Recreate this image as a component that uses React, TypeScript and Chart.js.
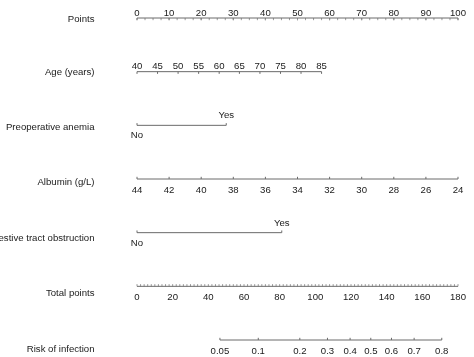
import React, { useEffect, useRef } from "react";
import { Chart, registerables } from "chart.js";

Chart.register(...registerables);

// Row titles (top to bottom)
const rowTitles = [
  "Points",
  "Age (years)",
  "Preoperative anemia",
  "Albumin (g/L)",
  "Digestive tract obstruction",
  "Total points",
  "Risk of infection",
];

// Points scale
const pointsLabels = [0, 10, 20, 30, 40, 50, 60, 70, 80, 90, 100];
const pointsMinorStep = 2.5;

// Age (years): label -> points
const ageLabels = [40, 45, 50, 55, 60, 65, 70, 75, 80, 85];
const agePoints = [0, 6.4, 12.8, 19.2, 25.6, 31.9, 38.3, 44.7, 51.1, 57.5];

// Preoperative anemia
const anemiaLabels = ["No", "Yes"];
const anemiaPoints = [0, 27.8];

// Albumin (g/L)
const albuminLabels = [44, 42, 40, 38, 36, 34, 32, 30, 28, 26, 24];
const albuminPoints = [0, 10, 20, 30, 40, 50, 60, 70, 80, 90, 100];

// Digestive tract obstruction
const obstructionLabels = ["No", "Yes"];
const obstructionPoints = [0, 45.1];

// Total points
const totalLabels = [0, 20, 40, 60, 80, 100, 120, 140, 160, 180];
const totalMax = 180;
const totalMinorStep = 2;

// Risk of infection: label -> total points
const riskLabels = ["0.05", "0.1", "0.2", "0.3", "0.4", "0.5", "0.6", "0.7", "0.8"];
const riskTotalPoints = [46.5, 68.0, 91.3, 106.8, 119.5, 131.1, 142.7, 155.4, 170.9];

const LINE = "#6a6a6a";
const MINOR = "#9a9a9a";
const TEXT = "#1a1a1a";
const FONT = '9.6px "Liberation Sans", Arial, Helvetica, sans-serif';

const tpToPts = (tp: number) => (tp * 100) / totalMax;

export default function App() {
  const ref = useRef<HTMLCanvasElement | null>(null);

  useEffect(() => {
    document.body.style.margin = "0";
    const canvas = ref.current;
    if (!canvas) return;

    const TICK = 1.1; // px half-length of tick mark
    const PX_PER_ROW = (357 - 18 - 17) / 6;
    const tOff = TICK / PX_PER_ROW;

    const lineDs = (row: number, x0: number, x1: number) => ({
      type: "line" as const,
      data: [
        { x: x0, y: row },
        { x: x1, y: row },
      ],
      borderColor: LINE,
      borderWidth: 1,
      pointRadius: 0,
      showLine: true,
      clip: false as any,
    });
    const tickDs = (row: number, xs: number[], dir: number, color = LINE) => ({
      type: "scatter" as const,
      data: xs.map((x) => ({ x, y: row + dir * tOff })),
      pointStyle: "line" as const,
      rotation: 90,
      pointRadius: TICK,
      pointBorderWidth: 1,
      pointBorderColor: color,
      borderColor: color,
      showLine: false,
      clip: false as any,
    });

    const pointsMinor: number[] = [];
    for (let v = 0; v <= 100 + 1e-9; v += pointsMinorStep) pointsMinor.push(v);
    const totalMinor: number[] = [];
    for (let v = 0; v <= totalMax + 1e-9; v += totalMinorStep) totalMinor.push(tpToPts(v));

    const datasets: any[] = [
      lineDs(0, 0, 100),
      tickDs(0, pointsMinor, 1, MINOR),
      tickDs(0, pointsLabels, 1),
      lineDs(1, agePoints[0], agePoints[agePoints.length - 1]),
      tickDs(1, agePoints, 1),
      lineDs(2, anemiaPoints[0], anemiaPoints[1]),
      tickDs(2, anemiaPoints, -1),
      lineDs(3, 0, 100),
      tickDs(3, albuminPoints, -1),
      lineDs(4, obstructionPoints[0], obstructionPoints[1]),
      tickDs(4, obstructionPoints, -1),
      lineDs(5, 0, tpToPts(totalMax)),
      tickDs(5, totalMinor, -1, MINOR),
      lineDs(6, tpToPts(riskTotalPoints[0]), tpToPts(riskTotalPoints[riskTotalPoints.length - 1])),
      tickDs(6, riskTotalPoints.map(tpToPts), -1),
    ];

    const textPlugin = {
      id: "nomoText",
      afterDatasetsDraw(chart: any) {
        const { ctx, scales } = chart;
        const xs = scales.x;
        const ys = scales.y;
        const X = (v: number) => xs.getPixelForValue(v);
        const Y = (r: number) => ys.getPixelForValue(r);
        ctx.save();
        ctx.font = FONT;
        ctx.fillStyle = TEXT;
        ctx.textBaseline = "alphabetic";

        const titleOff = [4.3, 3.8, 4.3, 6, 8.7, 9.3, 11.7];
        ctx.textAlign = "right";
        rowTitles.forEach((t, i) => ctx.fillText(t, 94.5, Y(i) + titleOff[i]));

        ctx.textAlign = "center";
        pointsLabels.forEach((v) => ctx.fillText(String(v), X(v), Y(0) - 2.3));
        ageLabels.forEach((v, i) => ctx.fillText(String(v), X(agePoints[i]), Y(1) - 2.3));
        ctx.fillText(anemiaLabels[1], X(anemiaPoints[1]), Y(2) - 7);
        ctx.fillText(anemiaLabels[0], X(anemiaPoints[0]), Y(2) + 12.5);
        albuminLabels.forEach((v, i) => ctx.fillText(String(v), X(albuminPoints[i]), Y(3) + 14));
        ctx.fillText(obstructionLabels[1], X(obstructionPoints[1]), Y(4) - 6.5);
        ctx.fillText(obstructionLabels[0], X(obstructionPoints[0]), Y(4) + 13);
        totalLabels.forEach((v) => ctx.fillText(String(v), X(tpToPts(v)), Y(5) + 14));
        riskLabels.forEach((l, i) => ctx.fillText(l, X(tpToPts(riskTotalPoints[i])), Y(6) + 14));
        ctx.restore();
      },
    };

    const chart = new Chart(canvas, {
      type: "scatter",
      data: { datasets },
      options: {
        responsive: false,
        animation: false,
        layout: { padding: { left: 137, right: 16, top: 18, bottom: 17 } },
        plugins: { legend: { display: false }, tooltip: { enabled: false } },
        scales: {
          x: { type: "linear", min: 0, max: 100, display: false },
          y: { type: "linear", min: 0, max: 6, reverse: true, display: false },
        },
      },
      plugins: [textPlugin],
    });
    return () => chart.destroy();
  }, []);

  return (
    <div style={{ width: 474, height: 357, background: "#fff" }}>
      <canvas ref={ref} width={474} height={357} />
    </div>
  );
}
